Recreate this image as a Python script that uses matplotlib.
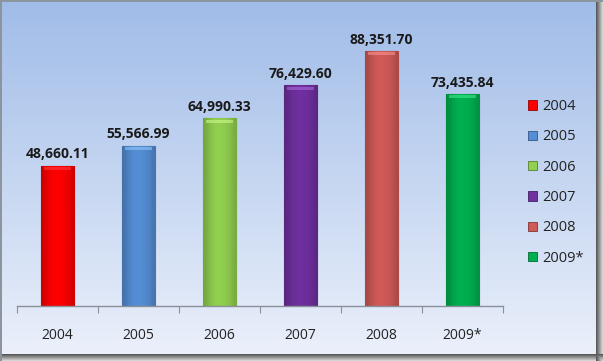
import numpy as np
import matplotlib
matplotlib.use("Agg")
import matplotlib.pyplot as plt
from matplotlib.colors import to_rgb
from matplotlib.patches import Rectangle

years = ["2004", "2005", "2006", "2007", "2008", "2009*"]
values = [48660.11, 55566.99, 64990.33, 76429.60, 88351.70, 73435.84]
colors = ["#ff0000", "#558ed5", "#92d050", "#7030a0", "#d05a58", "#00b050"]

plt.rcParams["font.family"] = ["Open Sans", "DejaVu Sans"]

fig = plt.figure(figsize=(6.03, 3.61), dpi=100)

# background gradient + frame
bg = fig.add_axes([0, 0, 1, 1], zorder=0)
grad = np.linspace(0, 1, 256)[:, None]
top = np.array([160, 188, 232]) / 255
bot = np.array([236, 241, 251]) / 255
img = top[None, None, :] * (1 - grad[:, :, None]) + bot[None, None, :] * grad[:, :, None]
bg.imshow(img, aspect="auto", extent=[0, 603, 361, 0])
bg.set_xlim(0, 603)
bg.set_ylim(361, 0)
bg.axis("off")
# shadow on right and bottom, thin border left/top
for i in range(7):
    c = 0.35 + (6 - i) * 0.08
    bg.add_patch(Rectangle((603 - 1 - i, 0), 1, 361, color=(c, c, c), lw=0))
    bg.add_patch(Rectangle((0, 361 - 1 - i), 603, 1, color=(c, c, c), lw=0))
bg.add_patch(Rectangle((0, 0), 2, 361, color=(0.55, 0.58, 0.62), lw=0))
bg.add_patch(Rectangle((0, 0), 603, 2, color=(0.55, 0.58, 0.62), lw=0))

ax = fig.add_axes([17 / 603, 55 / 361, 486 / 603, 288.6 / 361], zorder=1)
ax.patch.set_alpha(0)

x = np.arange(len(years))
bars = ax.bar(x, values, width=0.41, color=colors, zorder=2)

# cylinder-ish shading on each bar
shade = np.array([0.55, 0.8, 0.95, 1.0, 0.98, 0.92, 0.82, 0.6])
for b, col in zip(bars, colors):
    rgb = np.array(to_rgb(col))
    dark = rgb * 0.55
    row = dark[None, :] * (1 - shade[:, None]) + rgb[None, :] * shade[:, None]
    xb, w, h = b.get_x(), b.get_width(), b.get_height()
    im = ax.imshow(row[None, :, :], aspect="auto", extent=[xb, xb + w, 0, h],
                   zorder=2.1, interpolation="bicubic")
    im.set_clip_path(b)
    b.set_edgecolor(tuple(dark))
    b.set_linewidth(0.8)
    # light top rim
    ax.add_patch(Rectangle((xb + w * 0.1, h - 1500), w * 0.8, 1100,
                           color=tuple(np.minimum(rgb + 0.25, 1)), lw=0,
                           alpha=0.55, zorder=2.2))

for xi, v in zip(x, values):
    ax.annotate(f"{v:,.2f}", (xi, v), xytext=(0, 3), textcoords="offset points",
                ha="center", va="bottom", fontsize=10, fontweight="bold",
                color="#1a1a1a")

ax.set_xlim(-0.5, len(years) - 0.5)
ax.set_ylim(0, 100000)
ax.set_xticks(np.arange(len(years) + 1) - 0.5)
ax.set_xticklabels([])
ax.set_xticks(x, minor=True)
ax.set_xticklabels(years, minor=True, fontsize=10, color="#222222")
ax.tick_params(axis="x", which="major", length=5, color="#8a9099", direction="out")
ax.tick_params(axis="x", which="minor", length=0, pad=16)
ax.set_yticks([])
for s in ["top", "right", "left"]:
    ax.spines[s].set_visible(False)
ax.spines["bottom"].set_color("#8a9099")
ax.spines["bottom"].set_linewidth(1)

handles = [Rectangle((0, 0), 1, 1, facecolor=c, edgecolor=tuple(np.array(to_rgb(c)) * 0.6), lw=0.6)
           for c in colors]
fig.legend(handles, years, loc="upper left", bbox_to_anchor=(515 / 603, 1 - 86 / 361),
           frameon=False, fontsize=10.5, handlelength=0.6, handleheight=0.6,
           handletextpad=0.35, labelspacing=1.05, labelcolor="#222222")

fig.savefig("out.png", dpi=100)
